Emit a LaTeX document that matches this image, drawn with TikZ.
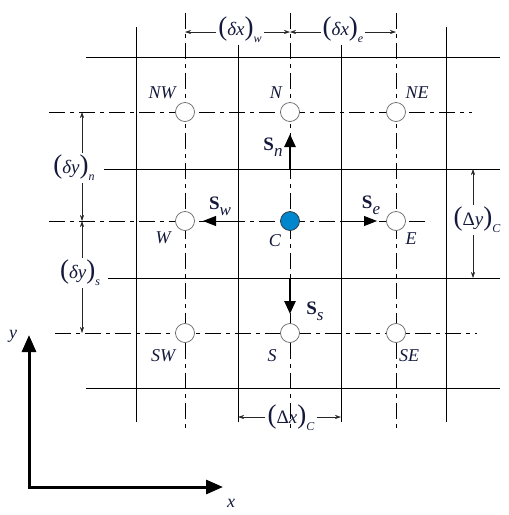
\documentclass[tikz,border=0pt]{standalone}
\usepackage{fontspec}
\setmainfont{Liberation Serif}
\usetikzlibrary{arrows.meta}

\definecolor{cellblue}{RGB}{0,134,204}
\definecolor{inknavy}{RGB}{20,25,60}

\newcommand{\bigpar}[1]{{\fontsize{27}{27}\selectfont\upshape #1}}
\newcommand{\dimtext}[2]{\bigpar{(}#1\bigpar{)}\raisebox{-7pt}{\fontsize{12}{13}\selectfont\itshape #2}}
\newcommand{\facelab}[1]{{\bfseries S}\raisebox{-6pt}{\fontsize{17}{18}\selectfont\itshape #1}}

\tikzset{
	gridline/.style={line width=0.9pt},
	centerline/.style={line width=0.9pt,dash pattern=on 16pt off 5pt on 4pt off 5pt},
	cell/.style={circle,draw=black!60,fill=white,minimum size=19pt,inner sep=0pt,line width=0.7pt},
	nlabel/.style={font=\fontsize{18}{20}\selectfont\itshape,text=inknavy,inner sep=0pt},
	slabel/.style={font=\fontsize{19}{20}\selectfont,text=inknavy,inner sep=0pt},
	dimlabel/.style={font=\fontsize{19}{20}\selectfont,text=inknavy,inner sep=2pt},
	dimline/.style={line width=0.6pt,black!85,-{Stealth[length=6pt,width=4pt]}},
	facearrow/.style={line width=2.6pt,-{Triangle[length=13pt,width=11pt]}},
	sidearrow/.style={line width=0.9pt,-{Triangle[length=13pt,width=10pt]}},
	axisarrow/.style={line width=3pt,{Triangle[length=17pt,width=14pt]}-{Triangle[length=17pt,width=14pt]}}
}

\begin{document}
\begin{tikzpicture}[x=1pt,y=-1pt]
	\useasboundingbox (0,0) rectangle (509,515);
	
	%grid
	\foreach \x/\a in {136/27,238/45,341/45,446/27}
	\draw[gridline] (\x,\a) -- (\x,422);
	\foreach \y/\a in {57/86,169/104,278/108,388/86}
	\draw[gridline] (\a,\y) -- (500,\y);
	
	%centre lines
	\foreach \x in {185,290,396}
	\draw[centerline] (\x,13) -- (\x,430);
	\foreach \y/\a/\b in {112/49/472,221/49/430,333/55/477}
	\draw[centerline] (\a,\y) -- (\b,\y);
	
	%cells
	\node[cell] (NW) at (185,112) {};
	\node[cell] (N) at (290,112) {};
	\node[cell] (NE) at (396,112) {};
	\node[cell] (W) at (185,221) {};
	\node[cell,fill=cellblue,draw=black!80] (C) at (290,221) {};
	\node[cell] (E) at (396,221) {};
	\node[cell] (SW) at (185,333) {};
	\node[cell] (S) at (290,333) {};
	\node[cell] (SE) at (396,333) {};
	
	\node[nlabel] (lNW) at (162,93) {NW};
	\node[nlabel] (lN) at (276,93) {N};
	\node[nlabel] (lNE) at (417,93) {NE};
	\node[nlabel] (lW) at (163,238) {W};
	\node[nlabel] (lC) at (275,241) {C};
	\node[nlabel] (lE) at (411,239) {E};
	\node[nlabel] (lSW) at (163,356) {SW};
	\node[nlabel] (lS) at (272,356) {S};
	\node[nlabel] (lSE) at (409,356) {SE};
	
	%faces
	\coordinate (fn) at (290,170);
	\coordinate (tn) at (290,134);
	\coordinate (fs) at (290,278);
	\coordinate (ts) at (290,314);
	\coordinate (fw) at (238,221);
	\coordinate (tw) at (203,221);
	\coordinate (fe) at (341,221);
	\coordinate (te) at (377,221);
	\draw[facearrow] (fn) -- (tn);
	\draw[facearrow] (fs) -- (ts);
	\draw[sidearrow] (fw) -- (tw);
	\draw[sidearrow] (fe) -- (te);
	
	\node[slabel] (lSn) at (273,147) {\facelab{n}};
	\node[slabel] (lSs) at (315,311) {\facelab{s}};
	\node[slabel] (lSw) at (220,206) {\facelab{w}};
	\node[slabel] (lSe) at (371,205) {\facelab{e}};
	
	%dimensions
	\coordinate (tx1) at (185,32);
	\coordinate (tx2) at (290,32);
	\coordinate (tx3) at (396,32);
	\coordinate (ty1) at (82,112);
	\coordinate (ty2) at (82,221);
	\coordinate (ty3) at (82,333);
	\coordinate (tY1) at (473,169);
	\coordinate (tY2) at (473,278);
	\coordinate (tX1) at (238,417);
	\coordinate (tX2) at (341,417);
	
	\node[dimlabel] (dxw) at (240,30) {\dimtext{\itshape δx}{w}};
	\node[dimlabel] (dxe) at (343,30) {\dimtext{\itshape δx}{e}};
	\node[dimlabel] (dyn) at (74,168) {\dimtext{\itshape δy}{n}};
	\node[dimlabel] (dys) at (80,273) {\dimtext{\itshape δy}{s}};
	\node[dimlabel] (dYc) at (477,220) {\dimtext{Δ\itshape y}{C}};
	\node[dimlabel] (dXc) at (291,418) {\dimtext{Δ\itshape x}{C}};
	
	\draw[dimline] (dxw.west |- tx1) -- (tx1);
	\draw[dimline] (dxw.east |- tx1) -- (tx2);
	\draw[dimline] (dxe.west |- tx1) -- (tx2);
	\draw[dimline] (dxe.east |- tx1) -- (tx3);
	\draw[dimline] (dyn.north -| ty1) -- (ty1);
	\draw[dimline] (dyn.south -| ty1) -- (ty2);
	\draw[dimline] (dys.north -| ty1) -- (ty2);
	\draw[dimline] (dys.south -| ty1) -- (ty3);
	\draw[dimline] (dYc.north -| tY1) -- (tY1);
	\draw[dimline] (dYc.south -| tY1) -- (tY2);
	\draw[dimline] (dXc.west |- tX1) -- (tX1);
	\draw[dimline] (dXc.east |- tX1) -- (tX2);
	
	%axes
	\coordinate (O) at (29,487);
	\coordinate (ax) at (223,487);
	\coordinate (ay) at (29,335);
	\draw[axisarrow] (ay) -- (O) -- (ax);
	\node[nlabel] (lx) at (231,503) {x};
	\node[nlabel] (ly) at (13,336) {y};
	
\end{tikzpicture}
\end{document}
